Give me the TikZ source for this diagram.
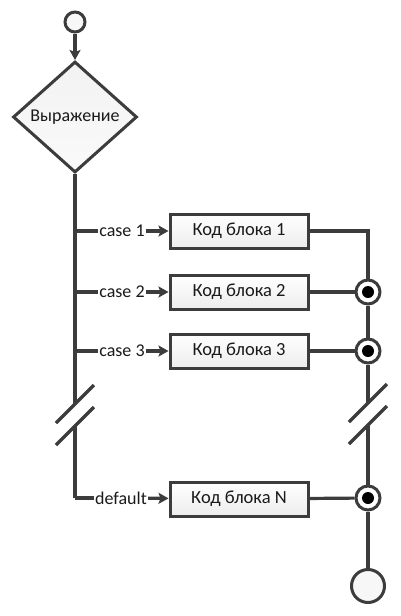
\documentclass[tikz,border=0pt]{standalone}
\usepackage{fontspec}
\setmainfont{Carlito}
\usetikzlibrary{shapes.geometric,arrows.meta}
\definecolor{linegray}{HTML}{3c3c3c}
\definecolor{textgray}{HTML}{1a1a1a}

\begin{document}
\begin{tikzpicture}[x=1pt, y=-1pt,
    line/.style={draw=linegray, line width=3.2pt},
    arrow/.style={line, -{Stealth[length=10pt,width=11pt,inset=2pt]}},
    box/.style={rectangle, draw=linegray, line width=3pt, top color=white, bottom color=gray!14, minimum width=138pt, minimum height=34pt, inner sep=0pt, text=textgray, font=\fontsize{18.5}{22}\selectfont},
    decision/.style={diamond, draw=linegray, line width=3pt, top color=gray!10, bottom color=gray!4, minimum width=124pt, minimum height=111pt, inner sep=0pt, aspect=1.1, text=textgray, font=\fontsize{18}{22}\selectfont},
    lbl/.style={inner sep=1pt, text=textgray, font=\fontsize{18}{22}\selectfont},
    terminal/.style={circle, draw=linegray, line width=3pt, fill=gray!6, inner sep=0pt},
    junc/.style={circle, draw=linegray, line width=3pt, fill=white, minimum size=24pt, inner sep=0pt,
        path picture={\fill[black] (path picture bounding box.center) circle (6pt);}}
]
    \useasboundingbox (0,0) rectangle (400,616);

    % Start and condition
    \node[terminal, minimum size=20pt] (begin) at (75,22) {};
    \node[decision] (expr) at (75,117) {Выражение};
    \draw[arrow] (begin) -- (expr);

    % Left rail
    \coordinate (l1) at (75,231);
    \coordinate (l2) at (75,292);
    \coordinate (l3) at (75,351);
    \coordinate (lb1) at (75,404);
    \coordinate (lb2) at (75,426);
    \coordinate (lN) at (75,498);
    \draw[line] (expr.south) -- (lb1);
    \draw[line] (lb2) -- (lN);

    % Case labels
    \node[lbl] (c1) at (122,231) {case 1};
    \node[lbl] (c2) at (122,292) {case 2};
    \node[lbl] (c3) at (122,351) {case 3};
    \node[lbl] (cN) at (121,498) {default};

    % Code blocks
    \node[box] (b1) at (239,231) {Код блока 1};
    \node[box] (b2) at (239,292) {Код блока 2};
    \node[box] (b3) at (239,351) {Код блока 3};
    \node[box] (bN) at (239,499) {Код блока N};

    \draw[line] (l1) -- (c1);
    \draw[line] (l2) -- (c2);
    \draw[line] (l3) -- (c3);
    \draw[line] (lN) -- (cN);
    \draw[arrow] (c1) -- (b1);
    \draw[arrow] (c2) -- (b2);
    \draw[arrow] (c3) -- (b3);
    \draw[arrow] (cN) -- (bN);

    % Right rail
    \node[junc] (j2) at (368,292) {};
    \node[junc] (j3) at (368,351) {};
    \node[junc] (jN) at (368,498) {};
    \coordinate (rb1) at (368,403);
    \coordinate (rb2) at (368,425);
    \node[terminal, minimum size=33pt] (finish) at (368,586) {};

    \draw[line] (b1) -| (j2);
    \draw[line] (b2) -- (j2);
    \draw[line] (j2) -- (j3);
    \draw[line] (b3) -- (j3);
    \draw[line] (j3) -- (rb1);
    \draw[line] (rb2) -- (jN);
    \draw[line] (bN) -- (jN);
    \draw[line] (jN) -- (finish);

    % Break marks
    \foreach \c in {lb1,lb2,rb1,rb2}
        \draw[line] ([shift={(-19,19)}]\c) -- ([shift={(19,-19)}]\c);
\end{tikzpicture}
\end{document}
